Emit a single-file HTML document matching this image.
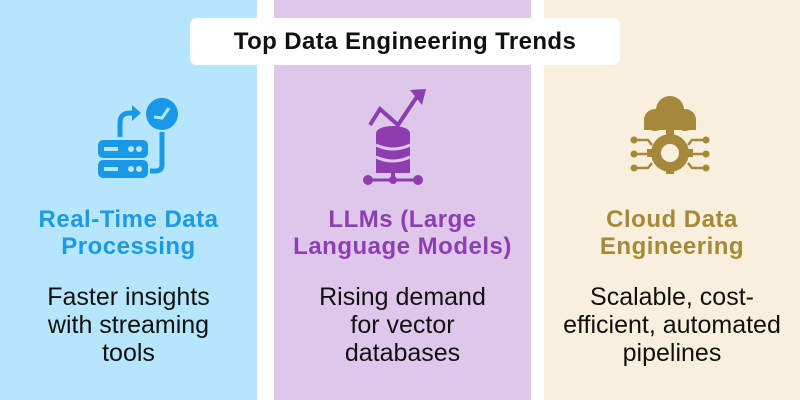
<!DOCTYPE html>
<html><head><meta charset="utf-8"><style>
body{margin:0;width:800px;height:400px;overflow:hidden;background:#fff;font-family:"Liberation Sans",sans-serif;position:relative}
.p{position:absolute;top:0;height:400px}
.h{position:absolute;left:0;width:100%;text-align:center;font-weight:bold;font-size:24px;letter-spacing:0.5px;line-height:27px;top:206px}
.b{position:absolute;left:0;width:100%;text-align:center;font-size:25px;line-height:28px;top:283px;color:#111}
.t{position:absolute;left:190px;top:18px;width:430px;height:47px;background:#fff;border-radius:7px;text-align:center;font-weight:bold;font-size:24px;letter-spacing:0.4px;line-height:47px;color:#111}
svg{position:absolute}
</style></head><body>
<div class="p" style="left:0;width:257px;background:#b5e6fc">
<svg style="left:95px;top:95px" width="90" height="90" viewBox="0 0 90 90">
<rect x="3" y="45" width="50" height="18" rx="5" fill="#1a98e8"/><rect x="3" y="65" width="50" height="18" rx="5" fill="#1a98e8"/>
<rect x="9" y="52" width="14" height="4" fill="#b5e6fc"/><rect x="9" y="72" width="14" height="4" fill="#b5e6fc"/>
<circle cx="36" cy="54" r="3" fill="#b5e6fc"/><circle cx="44" cy="54" r="3" fill="#b5e6fc"/><circle cx="36" cy="74" r="3" fill="#b5e6fc"/><circle cx="44" cy="74" r="3" fill="#b5e6fc"/>
<path d="M25 42 V28 Q25 18 35 18 H38" stroke="#1a98e8" stroke-width="5" fill="none"/><path d="M37 10 L46 18 L37 26Z" fill="#1a98e8"/>
<circle cx="67" cy="19" r="16" fill="#1a98e8"/><path d="M59 22 L67 23 L74 13" stroke="#b5e6fc" stroke-width="3" fill="none"/>
<path d="M67 37 V70 Q67 76 60 76 H55" stroke="#1a98e8" stroke-width="5" fill="none"/></svg>
<div class="h" style="color:#1b9ae6">Real-Time Data<br>Processing</div>
<div class="b">Faster insights<br>with streaming<br>tools</div></div>
<div class="p" style="left:274px;width:257px;background:#dfc7ec">
<svg style="left:86px;top:85px" width="90" height="100" viewBox="0 0 90 100">
<path d="M10 40 L20 24 L38 40 L58 10" stroke="#8e3db0" stroke-width="4" fill="none"/><path d="M50 5 L66 4 L62 20Z" fill="#8e3db0"/>
<ellipse cx="33" cy="48" rx="17" ry="7" fill="#8e3db0"/><rect x="16" y="48" width="34" height="40" fill="#8e3db0"/>
<path d="M16 60 Q33 68 50 60 M16 72 Q33 80 50 72" stroke="#dfc7ec" stroke-width="3" fill="none"/>
<rect x="31" y="88" width="4" height="6" fill="#8e3db0"/><path d="M8 95 H58" stroke="#8e3db0" stroke-width="3"/><circle cx="8" cy="95" r="5" fill="#8e3db0"/><circle cx="58" cy="95" r="5" fill="#8e3db0"/><circle cx="33" cy="95" r="4" fill="#8e3db0"/></svg>
<div class="h" style="color:#8d3fb1">LLMs (Large<br>Language Models)</div>
<div class="b">Rising demand<br>for vector<br>databases</div></div>
<div class="p" style="left:544px;width:256px;background:#f8efdd">
<svg style="left:86px;top:92px" width="90" height="95" viewBox="0 0 90 95">
<g fill="#a5883a"><circle cx="40" cy="18" r="14"/><circle cx="25" cy="28" r="11"/><circle cx="55" cy="28" r="11"/><rect x="14" y="28" width="52" height="10"/>
<circle cx="40" cy="61" r="19"/><rect x="36" y="38" width="8" height="44"/><rect x="17" y="57" width="46" height="8"/>
<path d="M5 48 H18 L22 53 M5 62 H18 M5 76 H18 L22 71 M75 48 H62 L58 53 M75 62 H62 M75 76 H62 L58 71" stroke="#a5883a" stroke-width="2.5" fill="none"/>
<circle cx="4" cy="48" r="3.5"/><circle cx="4" cy="62" r="3.5"/><circle cx="4" cy="76" r="3.5"/><circle cx="76" cy="48" r="3.5"/><circle cx="76" cy="62" r="3.5"/><circle cx="76" cy="76" r="3.5"/></g>
<circle cx="40" cy="61" r="9" fill="#f8efdd"/></svg>
<div class="h" style="color:#a68936">Cloud Data<br>Engineering</div>
<div class="b">Scalable, cost-<br>efficient, automated<br>pipelines</div></div>
<div class="t">Top Data Engineering Trends</div>
</body></html>
